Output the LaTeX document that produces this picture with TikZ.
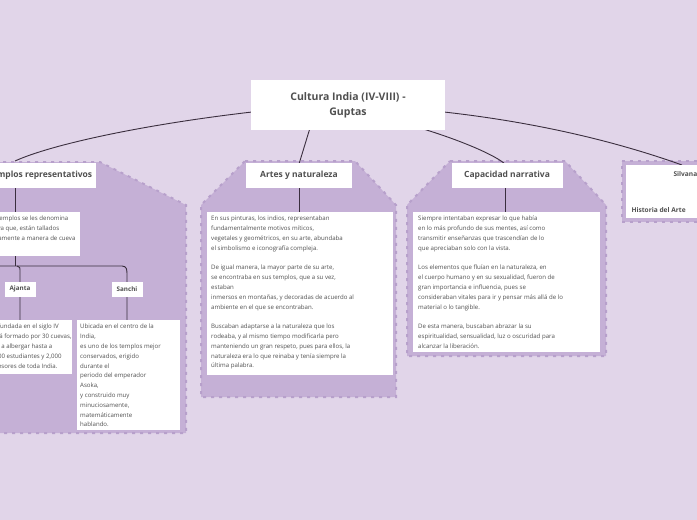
\documentclass[tikz,border=0pt]{standalone}
\usepackage{fontspec}
\setmainfont{Open Sans}
\begin{document}
\begin{tikzpicture}[x=1pt,y=-1pt,
  clus/.style={fill=clc,draw=cld,line width=2pt,dash pattern=on 3pt off 5pt},
  ttl/.style={font=\bfseries\fontsize{8.5}{10}\selectfont,text=tc},
  body/.style={font=\fontsize{6.1}{9.8}\selectfont,text=tc,align=left,anchor=north west,inner sep=0pt},
  conn/.style={draw=lc,line width=0.9pt}]
\definecolor{bgc}{HTML}{E1D5E9}
\definecolor{clc}{HTML}{C5B0D6}
\definecolor{cld}{HTML}{B7A0CB}
\definecolor{tc}{HTML}{505050}
\definecolor{lc}{HTML}{3A2E3E}
\useasboundingbox (0,0) rectangle (697,520);
\clip (0,0) rectangle (697,520);
\fill[bgc] (0,0) rectangle (697,520);
% clusters
\path[clus] (-5,162) -- (100,162) -- (186,205) -- (186,433) -- (-5,433) -- cycle;
\path[clus] (245,161) -- (355,161) -- (396,205) -- (396,397) -- (201,397) -- (201,205) -- cycle;
\path[clus] (450,161) -- (565,161) -- (606,205) -- (606,356) -- (407,356) -- (407,205) -- cycle;
\path[clus] (622,161) -- (705,161) -- (705,222) -- (622,222) -- cycle;
% connectors
\coordinate (m1) at (252,112);
\coordinate (m2) at (310,128);
\coordinate (m3) at (420,128);
\coordinate (m4) at (444,112);
\coordinate (t1) at (15,161);
\coordinate (t2) at (299,164);
\coordinate (t3) at (505,164);
\coordinate (t4) at (682,165);
\draw[conn] (m1) .. controls (140,125) and (50,145) .. (t1);
\draw[conn] (m2) -- (t2);
\draw[conn] (m3) .. controls (460,140) and (495,155) .. (t3);
\draw[conn] (m4) .. controls (560,125) and (640,150) .. (t4);
\coordinate (c1a) at (15,187);
\coordinate (c1b) at (15,213);
\draw[conn] (c1a) -- (c1b);
\draw[conn] (299,187) -- (299,212);
\draw[conn] (505,187) -- (505,212);
\coordinate (c1c) at (15,256);
\coordinate (c1d) at (15,266);
\draw[conn] (c1c) -- (c1d);
\draw[conn] (0,266) -- (122,266) .. controls (127,266) and (127,270) .. (127,275) -- (127,320);
\draw[conn] (17,266) .. controls (20,266) and (20,268) .. (20,272) -- (20,320);
% main
\node[fill=white,minimum width=194pt,minimum height=50pt,text=tc,font=\bfseries\fontsize{10.5}{15}\selectfont,align=center] (main) at (348,105) {Cultura India (IV-VIII) -\\Guptas};
% titles
\node[fill=white,minimum width=110pt,minimum height=25pt,ttl] (ta) at (40,175) {Templos representativos};
\node[fill=white,minimum width=106pt,minimum height=25pt,ttl] (tb) at (299,175) {Artes y naturaleza};
\node[fill=white,minimum width=111pt,minimum height=25pt,ttl] (tc) at (507,175) {Capacidad narrativa};
% left
\fill[white] (-5,212) rectangle (80,256);
\node[body] (da) at (-25,216) {A estos templos se les denomina\\cuevas, ya que, están tallados\\completamente a manera de cueva};
\node[fill=white,minimum width=31pt,minimum height=15pt,font=\bfseries\fontsize{6.3}{8}\selectfont,text=tc] (aj) at (20,289) {Ajanta};
\node[fill=white,minimum width=31pt,minimum height=15pt,font=\bfseries\fontsize{6.3}{8}\selectfont,text=tc] (sa) at (127,289) {Sanchi};
\fill[white] (-5,320) rectangle (72,374);
\node[body] (daj) at (-14,324) {Fue fundada en el siglo IV\\y está formado por 30 cuevas,\\llegó a albergar hasta a\\10,000 estudiantes y 2,000\\profesores de toda India.};
\fill[white] (77,320) rectangle (180,430);
\node[body] (dsa) at (80,324) {Ubicada en el centro de la\\India,\\es uno de los templos mejor\\conservados, erigido\\durante el\\periodo del emperador\\Asoka,\\y construido muy\\minuciosamente,\\matemáticamente\\hablando.};
% middle
\fill[white] (207,212) rectangle (393,375);
\node[body] (db) at (211,216) {En sus pinturas, los indios, representaban\\fundamentalmente motivos míticos,\\vegetales y geométricos, en su arte, abundaba\\el simbolismo e iconografía compleja.\\[9.8pt]De igual manera, la mayor parte de su arte,\\se encontraba en sus templos, que a su vez,\\estaban\\inmersos en montañas, y decoradas de acuerdo al\\ambiente en el que se encontraban.\\[9.8pt]Buscaban adaptarse a la naturaleza que los\\rodeaba, y al mismo tiempo modificarla pero\\manteniendo un gran respeto, pues para ellos, la\\naturaleza era lo que reinaba y tenía siempre la\\última palabra.};
% right
\fill[white] (413,212) rectangle (600,352);
\node[body] (dc) at (418,216) {Siempre intentaban expresar lo que había\\en lo más profundo de sus mentes, así como\\transmitir enseñanzas que trascendían de lo\\que apreciaban solo con la vista.\\[9.8pt]Los elementos que fluían en la naturaleza, en\\el cuerpo humano y en su sexualidad, fueron de\\gran importancia e influencia, pues se\\consideraban vitales para ir y pensar más allá de lo\\material o lo tangible.\\[9.8pt]De esta manera, buscaban abrazar la su\\espiritualidad, sensualidad, luz o oscuridad para\\alcanzar la liberación.};
% far right
\fill[white] (626,165) rectangle (705,218);
\node[ttl,font=\bfseries\fontsize{6.6}{8}\selectfont,anchor=west] (sv) at (670,174) {Silvana Pérez};
\node[ttl,font=\bfseries\fontsize{6.6}{8}\selectfont,anchor=west] (ha) at (628,210) {Historia del Arte};
\end{tikzpicture}
\end{document}
